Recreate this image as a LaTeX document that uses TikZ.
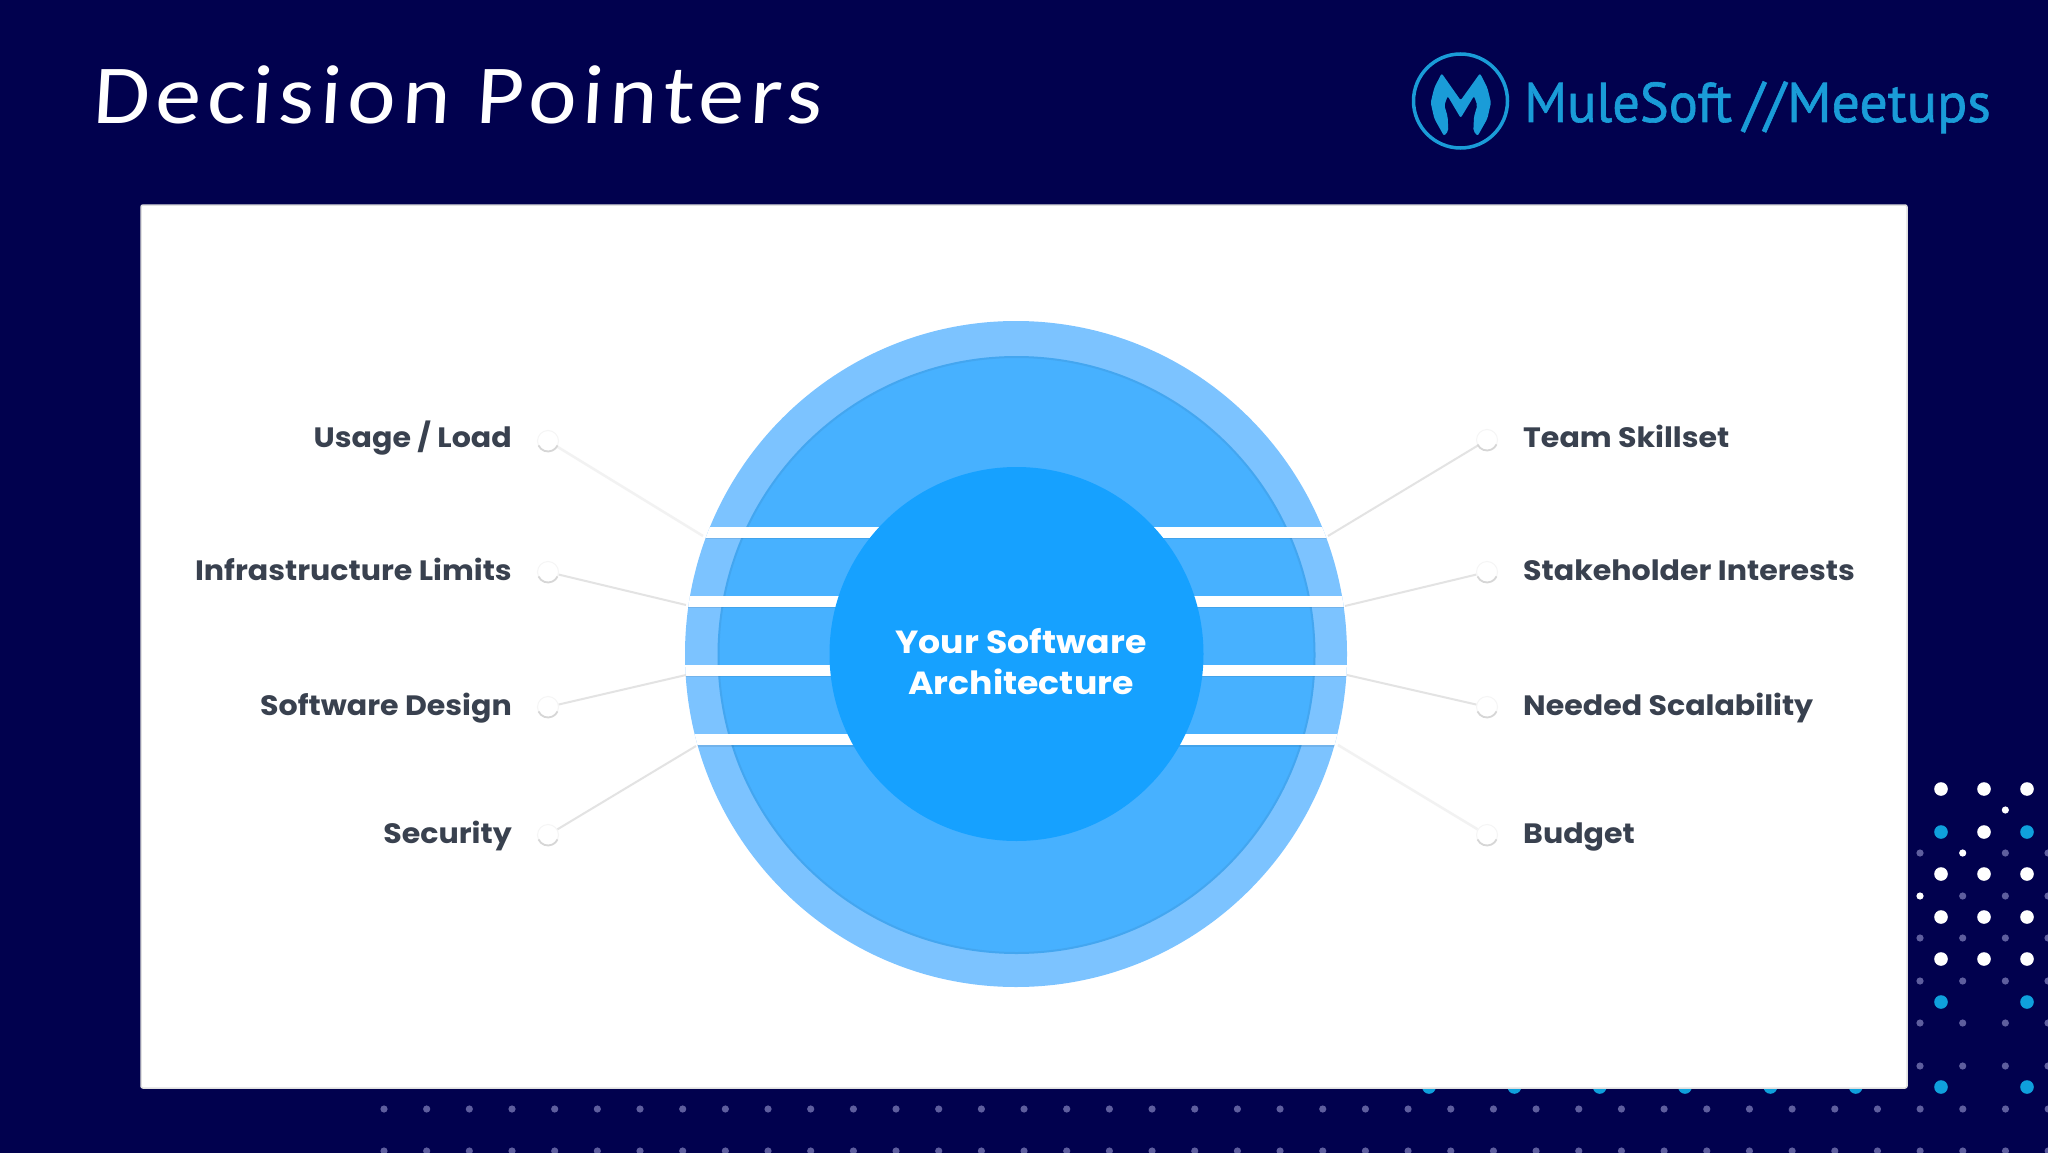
\documentclass[tikz,border=0pt]{standalone}
\usepackage{fontspec}
\setmainfont{Poppins}
\newfontfamily\titlefont[FakeStretch=1.09,FakeSlant=0.06]{Carlito}
\newfontfamily\logofont[FakeBold=1.1]{PT Sans}
\newfontfamily\logonarrow[FakeBold=1.1,FakeStretch=0.97]{PT Sans}
\definecolor{navy}{HTML}{01014E}
\definecolor{outerblue}{HTML}{7CC3FF}
\definecolor{midblue}{HTML}{47B1FF}
\definecolor{coreblue}{HTML}{16A1FF}
\definecolor{cyandot}{HTML}{0FA0DC}
\definecolor{dimdot}{HTML}{5E5E9E}
\definecolor{labelink}{HTML}{39414F}
\definecolor{logoblue}{HTML}{1A9CD8}
\tikzset{
  factor/.style={font=\bfseries\fontsize{28}{30}\selectfont\addfontfeature{FakeStretch=1.074},text=labelink,inner sep=0pt},
  pin/.style={circle,fill=white,draw=black!4,line width=1pt,minimum size=21pt,inner sep=0pt},
  feeler/.style={draw=black!11,line width=2pt},
  faintfeeler/.style={draw=black!5,line width=2.5pt},
  bigdot/.style={radius=6.8pt},
  smalldot/.style={radius=3.6pt},
}
\begin{document}
\begin{tikzpicture}[x=1pt,y=-1pt]
\useasboundingbox (0,0) rectangle (2048,1153);
\fill[navy] (0,0) rectangle (2048,1153);
% dotted background
\foreach \x in {384,426.67,...,2050} \foreach \y in {1109,1151} \fill[dimdot] (\x,\y) circle[smalldot];
\foreach \x in {1920,1962.67,2005.33,2048} \foreach \y in {938,981,1023,1066} \fill[dimdot] (\x,\y) circle[smalldot];
\foreach \p in {(1920,853),(2005.33,853),(2048,853),(1962.67,896),(2005.33,896),(2048,896)} \fill[dimdot] \p circle[smalldot];
\foreach \p in {(2005.33,810),(1962.67,853),(1920,896)} \fill[white] \p circle[radius=3.6pt];
\foreach \p in {(1941,789),(1984,789),(2027,789),(1984,832),(1941,874),(1984,874),(2027,874),(1941,917),(1984,917),(2027,917),(1941,959),(1984,959),(2027,959)} \fill[white] \p circle[bigdot];
\foreach \p in {(1941,832),(2027,832),(1941,1002),(2027,1002),(1941,1087),(2027,1087),(1855.7,1087),(1770.4,1087),(1685,1087),(1599.7,1087),(1514.4,1087),(1429,1087)} \fill[cyandot] \p circle[bigdot];
% panel
\fill[white,draw=black!12,line width=1.5pt,rounded corners=2pt] (141,205) rectangle (1907,1088);
% title
\node[anchor=base west,inner sep=0pt,text=white,font=\titlefont\fontsize{84}{90}\selectfont] (title) at (92,124) {\addfontfeature{LetterSpace=7.2}Decision Pointers};
% logo
\draw[logoblue,line width=3.5pt] (1460.5,101) circle[radius=47pt];
\begin{scope}[shift={(1400,46)},x=0.3333pt,y=-0.3333pt]
\fill[logoblue,rounded corners=2pt] (125,82) -- (182,163) -- (240,82) -- (262,125) -- (273,170) -- (262,218) -- (233,270) -- (220,255) -- (222,212) -- (232,178) -- (222,150) -- (182,216) -- (143,150) -- (133,178) -- (143,212) -- (145,255) -- (132,270) -- (103,218) -- (92,170) -- (103,125) -- cycle;
\end{scope}
\node[anchor=base west,inner sep=0pt,text=logoblue,font=\logonarrow\fontsize{56}{60}\selectfont] (logoa) at (1524,122) {MuleSoft};
\node[anchor=base west,inner sep=0pt,text=logoblue,font=\logofont\fontsize{60}{60}\selectfont] (logob) at (1743,124) {//};
\node[anchor=base west,inner sep=0pt,text=logoblue,font=\logofont\fontsize{56}{60}\selectfont] (logoc) at (1787,122) {Meetups};
% circles
\fill[outerblue] (1016,654) circle[x radius=331pt,y radius=333pt];
\draw[midblue!94!black,line width=2pt,fill=midblue] (1016.5,655) circle[radius=298pt];
\foreach \y in {532,601,670,739.5} {
  \begin{scope}
  \clip (1016,654) circle[x radius=331pt,y radius=333pt];
  \fill[black,opacity=0.08] (600,\y+5.5) rectangle (1430,\y+7);
  \fill[white] (600,\y-5.5) rectangle (1430,\y+5.5);
  \end{scope}
}
\fill[coreblue] (1016.5,654) circle[radius=187pt];
\node[align=center,text=white,font=\bfseries\fontsize{32}{41}\selectfont\addfontfeature{FakeStretch=1.085},inner sep=0pt] (core) at (1021,662) {Your Software\\Architecture};
% bar end coordinates
\coordinate (la) at (703,536);
\coordinate (lb) at (686,605);
\coordinate (lc) at (686,675);
\coordinate (ld) at (696,746);
\coordinate (ra) at (1328,536);
\coordinate (rb) at (1345,606);
\coordinate (rc) at (1347,675);
\coordinate (rd) at (1338,745);
% pins
\node[pin] (pla) at (548,441) {};
\node[pin] (plb) at (548,572) {};
\node[pin] (plc) at (548,707) {};
\node[pin] (pld) at (548,835) {};
\node[pin] (pra) at (1487,440) {};
\node[pin] (prb) at (1487,572) {};
\node[pin] (prc) at (1487,707) {};
\node[pin] (prd) at (1487,835) {};
\draw[faintfeeler] (pla) -- (la);
\draw[feeler] (plb) -- (lb);
\draw[feeler] (plc) -- (lc);
\draw[feeler] (pld) -- (ld);
\draw[feeler] (pra) -- (ra);
\draw[feeler] (prb) -- (rb);
\draw[feeler] (prc) -- (rc);
\draw[faintfeeler] (prd) -- (rd);
\foreach \n in {pla,plb,plc,pld,pra,prb,prc,prd} {
  \fill[white] (\n) circle[radius=9.5pt];
  \draw[black!16,line width=1.8pt] (\n) ++(205:10.5pt) arc[start angle=205,end angle=335,radius=10.5pt];
}
% labels
\node[factor,anchor=base east] (ta) at (512,447) {Usage / Load};
\node[factor,anchor=base east] (tb) at (512,580) {Infrastructure Limits};
\node[factor,anchor=base east] (tc) at (512,715) {Software Design};
\node[factor,anchor=base east] (td) at (512,843) {Security};
\node[factor,anchor=base west] (te) at (1523,447) {Team Skillset};
\node[factor,anchor=base west] (tf) at (1523,580) {Stakeholder Interests};
\node[factor,anchor=base west] (tg) at (1523,715) {Needed Scalability};
\node[factor,anchor=base west] (th) at (1523,843) {Budget};
\end{tikzpicture}
\end{document}
